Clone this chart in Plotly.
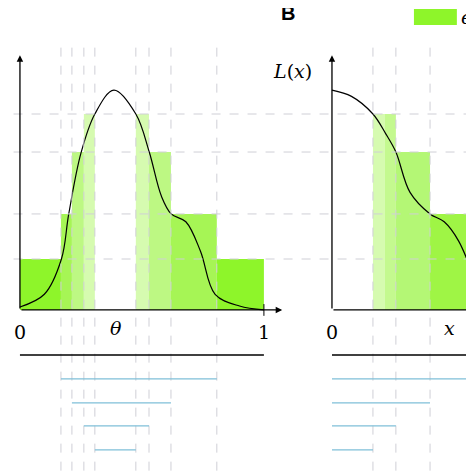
import plotly.graph_objects as go

OFF = 1.279  # right panel x offset
levels = [1.0, 0.806, 0.49, 0.26]
vlines_left = [0.168, 0.213, 0.262, 0.307, 0.475, 0.529, 0.619, 0.807]
vlines_right = [0.168, 0.262, 0.402]
bars_left_x0 = [0.0, 0.168, 0.213, 0.262, 0.475, 0.529, 0.619, 0.807]
bars_left_x1 = [0.168, 0.213, 0.262, 0.307, 0.529, 0.619, 0.807, 1.0]
bars_left_h = [0.26, 0.49, 0.806, 1.0, 1.0, 0.806, 0.49, 0.26]
bars_right_x0 = [0.168, 0.217, 0.262, 0.402]
bars_right_x1 = [0.217, 0.262, 0.402, 0.62]
bars_right_h = [1.0, 1.0, 0.806, 0.49]
theta = [0, 0.1, 0.17, 0.2, 0.25, 0.307, 0.385, 0.475, 0.53, 0.58, 0.62, 0.68, 0.74, 0.8, 0.9, 1.0]
dens = [0.015, 0.08, 0.26, 0.49, 0.8, 1.0, 1.122, 1.0, 0.806, 0.58, 0.49, 0.45, 0.3, 0.08, 0.02, 0.0]
xr = [0, 0.08, 0.168, 0.22, 0.262, 0.32, 0.402, 0.46, 0.52, 0.6]
Lx = [1.122, 1.09, 1.0, 0.9, 0.806, 0.6, 0.49, 0.45, 0.35, 0.1]
blue_left = [(0.168, 0.807), (0.213, 0.619), (0.262, 0.529), (0.307, 0.475)]
blue_right = [(0, 0.7), (0, 0.402), (0, 0.262), (0, 0.168)]
blue_y = [-0.352, -0.474, -0.592, -0.714]

colmap = {0.26: "#8ef52a", 0.49: "#a6f555", 0.806: "#bdf883", 1.0: "#d6fbb0"}
fig = go.Figure()
shapes = []
for a, b, h in zip(bars_left_x0, bars_left_x1, bars_left_h):
    shapes.append(dict(type="rect", x0=a, x1=b, y0=0, y1=h, fillcolor=colmap[h], line_width=0, layer="below"))
rcols = ["#d6fbb0", "#c4f98f", "#b4f775", "#9ff545"]
for a, b, h, c in zip(bars_right_x0, bars_right_x1, bars_right_h, rcols):
    shapes.append(dict(type="rect", x0=a + OFF, x1=b + OFF, y0=0, y1=h, fillcolor=c, line_width=0, layer="below"))
dash = dict(color="#cfcfd6", width=1, dash="dash")
for lv in levels:
    shapes.append(dict(type="line", x0=-0.1, x1=1.95, y0=lv, y1=lv, line=dash))
for v in vlines_left:
    shapes.append(dict(type="line", x0=v, x1=v, y0=-0.82, y1=1.35, line=dash))
for v in vlines_right:
    shapes.append(dict(type="line", x0=v + OFF, x1=v + OFF, y0=-0.82, y1=1.35, line=dash))
shapes.append(dict(type="line", x0=0, x1=1, y0=-0.23, y1=-0.23, line=dict(color="black", width=1.5)))
shapes.append(dict(type="line", x0=OFF, x1=OFF + 0.7, y0=-0.23, y1=-0.23, line=dict(color="black", width=1.5)))
for (a, b), y in zip(blue_left, blue_y):
    shapes.append(dict(type="line", x0=a, x1=b, y0=y, y1=y, line=dict(color="#7fbfd8", width=1.2)))
for (a, b), y in zip(blue_right, blue_y):
    shapes.append(dict(type="line", x0=a + OFF, x1=b + OFF, y0=y, y1=y, line=dict(color="#7fbfd8", width=1.2)))
shapes.append(dict(type="line", x0=1, x1=1, y0=-0.03, y1=0.03, line=dict(color="black", width=1)))
shapes.append(dict(type="rect", x0=1.615, x1=1.791, y0=1.454, y1=1.536, fillcolor="#8ef52a", line_width=0))

fig.add_trace(go.Scatter(x=theta, y=dens, mode="lines", line=dict(color="black", width=1.2, shape="spline"), hoverinfo="skip"))
fig.add_trace(go.Scatter(x=[v + OFF for v in xr], y=Lx, mode="lines", line=dict(color="black", width=1.2, shape="spline"), hoverinfo="skip"))

ann = []
def arrow(x0, y0, x1, y1):
    ann.append(dict(x=x1, y=y1, ax=x0, ay=y0, xref="x", yref="y", axref="x", ayref="y", showarrow=True,
                    arrowhead=2, arrowsize=1, arrowwidth=1.3, arrowcolor="black", text=""))
arrow(0, 0, 0, 1.3)
arrow(0, 0, 1.075, 0)
arrow(OFF, 0, OFF, 1.3)
arrow(OFF, 0, OFF + 0.7, 0)
serif = dict(family="DejaVu Serif", size=19, color="black")
def txt(x, y, t, f=serif):
    ann.append(dict(x=x, y=y, text=t, showarrow=False, font=f, xref="x", yref="y"))
txt(0, -0.11, "0"); txt(0.394, -0.09, "<i>θ</i>"); txt(1, -0.11, "1")
txt(OFF, -0.11, "0"); txt(OFF + 0.483, -0.09, "<i>x</i>")
txt(OFF - 0.16, 1.22, "<i>L</i>(<i>x</i>)")
txt(-0.065, 1.22, ")")
txt(1.097, 1.515, "<b>B</b>", dict(family="Liberation Sans", size=20, color="black"))
txt(1.83, 1.495, "<i>ϵ</i>")

fig.update_layout(width=474, height=474, margin=dict(l=0, r=0, t=0, b=0), plot_bgcolor="white", paper_bgcolor="white",
                  showlegend=False, shapes=shapes, annotations=ann,
                  xaxis=dict(range=[-0.049, 1.894], visible=False),
                  yaxis=dict(range=[-0.878, 1.541], visible=False))
fig.write_html("out.html")
